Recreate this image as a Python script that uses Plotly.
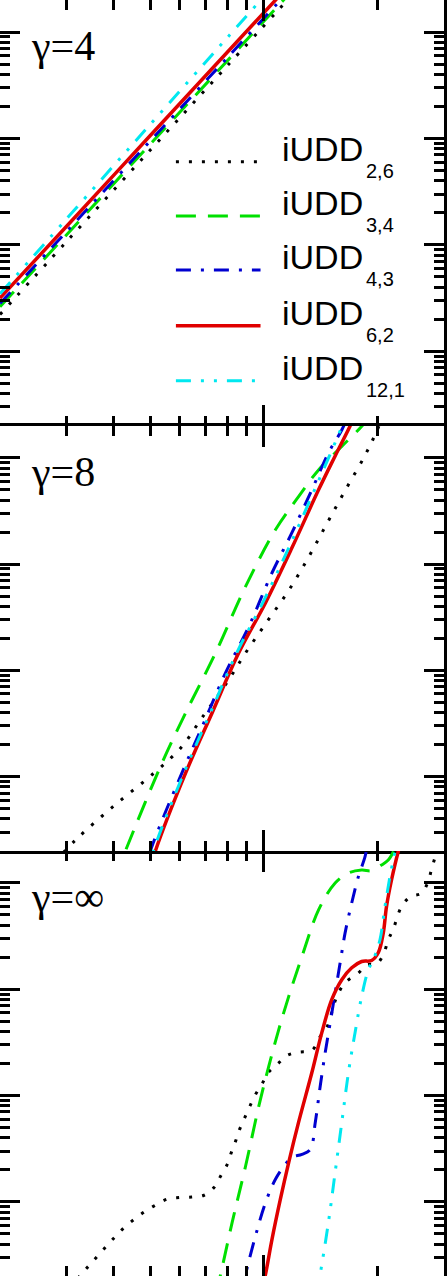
import math
import plotly.graph_objects as go
from plotly.subplots import make_subplots

W, H = 447, 1276

# ---------------- data ----------------
series_main = ["iUDD", "iUDD", "iUDD", "iUDD", "iUDD"]
series_sub = ["2,6", "3,4", "4,3", "6,2", "12,1"]
panel_labels = ["γ=4", "γ=8", "γ=∞"]

# panel 1 : gamma = 4
p1_x = [0.2, 0.3, 0.5, 0.8, 1.2]
p1_black = [2.22, 10.7, 77.4, 479, 2301]
p1_green = [2.62, 12.4, 88.1, 533, 2523]
p1_blue = [2.81, 13.3, 94.4, 571, 2704]
p1_red = [3.16, 14.9, 106, 643, 3035]
p1_cyan = [3.47, 17.5, 135, 880, 4440]

# panel 2 : gamma = 8
p2_black_x = [0.279, 0.3187, 0.4007, 0.5108, 0.6035, 0.6882, 0.7932, 0.896, 1.021, 1.166,
              1.316, 1.471, 1.645, 1.850, 1.975, 2.08]
p2_black_y = [0.157, 0.258, 0.530, 1.074, 1.872, 3.63, 7.36, 14.6, 28.7, 56.5,
              116, 239, 491, 1024, 1637, 2520]
p2_green_x = [0.4023, 0.4318, 0.5385, 0.6222, 0.7465, 0.896, 1.075, 1.238, 1.399, 1.609, 1.816, 1.954]
p2_green_y = [0.109, 0.2076, 1.362, 4.02, 14.7, 61.6, 210, 431, 768, 1271, 1958, 2690]
p2_blue_x = [0.468, 0.5028, 0.5973, 0.6882, 0.7932, 0.914, 1.053, 1.189, 1.343, 1.486, 1.612, 1.679]
p2_blue_y = [0.0875, 0.2076, 0.944, 2.99, 9.53, 25.9, 82.8, 197, 499, 1109, 1824, 2523]
p2_red_x = [0.483, 0.5184, 0.6222, 0.7311, 0.860, 1.012, 1.189, 1.399, 1.548, 1.696, 1.762]
p2_red_y = [0.0875, 0.2076, 1.097, 4.02, 14.7, 43.3, 142, 499, 1040, 1990, 2690]
p2_cyan_x = [0.478, 0.5121, 0.6157, 0.7233, 0.8495, 0.9952, 1.166, 1.365, 1.495, 1.618, 1.689]
p2_cyan_y = [0.0875, 0.2076, 1.097, 4.02, 14.7, 43.3, 142, 499, 1040, 1990, 2690]

# panel 3 : gamma = infinity
p3_black_x = [0.306, 0.3286, 0.3455, 0.3633, 0.3837, 0.4045, 0.4274, 0.4543, 0.4828, 0.5162,
              0.5541, 0.5973, 0.6452, 0.6953, 0.7387, 0.7695, 0.8011, 0.8209, 0.8431, 0.8637,
              0.892, 0.9519, 0.9952, 1.028, 1.086, 1.153, 1.238, 1.343, 1.413, 1.471,
              1.516, 1.563, 1.645, 1.784, 1.876, 1.993, 2.077, 2.141, 2.207, 2.321,
              2.452, 2.621, 2.730, 2.785, 2.843, 2.901]
p3_black_y = [0.151, 0.2085, 0.2533, 0.3098, 0.3846, 0.4712, 0.5726, 0.685, 0.802, 0.927,
              1.056, 1.095, 1.109, 1.151, 1.359, 1.747, 2.249, 2.897, 3.724, 4.795,
              6.216, 10.22, 13.24, 16.34, 19.55, 23.74, 25.5, 26.63, 35.8, 43.5,
              60.2, 85.0, 115.1, 141.9, 169.8, 173.5, 210.9, 291.6, 367.5, 599,
              743.6, 800.5, 1028, 1324, 1706, 2275]
p3_green_x = [0.7478, 0.7695, 0.8257, 0.896, 0.9712, 1.032, 1.097, 1.166, 1.264, 1.399,
              1.548, 1.679, 1.820, 1.934, 2.055, 2.141, 2.207, 2.247]
p3_green_y = [0.1353, 0.2085, 0.6419, 2.169, 7.934, 18.84, 41.67, 85.6, 203.2, 557.8,
              1000, 1241, 1324, 1305, 1476, 1644, 1955, 2275]
p3_blue_x = [0.8706, 0.896, 0.9519, 1.012, 1.075, 1.142, 1.189, 1.264, 1.330, 1.371,
             1.413, 1.457, 1.502, 1.548, 1.596, 1.645, 1.713, 1.784, 1.858, 1.884]
p3_blue_y = [0.1353, 0.2085, 0.4775, 0.9828, 1.627, 2.249, 2.617, 2.793, 3.112, 5.578,
             12.23, 25.34, 48.46, 92.72, 177.3, 339.3, 648.9, 1146, 1766, 2275]
p3_red_x = [0.9831, 1.012, 1.053, 1.108, 1.166, 1.238, 1.343, 1.427, 1.516, 1.612,
            1.713, 1.820, 1.934, 2.014, 2.077, 2.118, 2.184, 2.275, 2.303]
p3_red_y = [0.1353, 0.2085, 0.4446, 1.056, 2.349, 5.578, 16.44, 39.04, 79.67, 122.8,
            159.2, 182.4, 186.4, 220.2, 339.3, 599, 1067, 1968, 2275]
p3_cyan_x = [1.382, 1.413, 1.486, 1.548, 1.612, 1.679, 1.748, 1.820, 1.896, 1.954,
             2.035, 2.098, 2.163, 2.230, 2.247]
p3_cyan_y = [0.1353, 0.2085, 0.6419, 1.892, 5.578, 16.44, 39.04, 85.6, 152.4, 189.2,
             291.6, 599, 1146, 1968, 2275]

x_range = [0.2, 3.0]
y_range = [0.2, 2000.0]

# ---------------- styles ----------------
colors = ["#000000", "#00e000", "#0000d0", "#e00000", "#00e8f0"]
dashes = ["3px,10px", "20px,12px", "15px,10px,3px,10px", "solid", "15px,10px,3px,10px,3px,10px"]
widths = [3, 3, 3, 3.5, 3]

panels = [
    [(p1_x, p1_black), (p1_x, p1_green), (p1_x, p1_blue), (p1_x, p1_red), (p1_x, p1_cyan)],
    [(p2_black_x, p2_black_y), (p2_green_x, p2_green_y), (p2_blue_x, p2_blue_y),
     (p2_red_x, p2_red_y), (p2_cyan_x, p2_cyan_y)],
    [(p3_black_x, p3_black_y), (p3_green_x, p3_green_y), (p3_blue_x, p3_blue_y),
     (p3_red_x, p3_red_y), (p3_cyan_x, p3_cyan_y)],
]

fig = make_subplots(rows=3, cols=1, vertical_spacing=0)

for r, pdata in enumerate(panels, start=1):
    for i, (xs, ys) in enumerate(pdata):
        fig.add_trace(go.Scatter(
            x=xs, y=ys, mode="lines", name=series_main[i] + " " + series_sub[i], showlegend=False,
            line=dict(color=colors[i], width=widths[i], dash=dashes[i]),
            line_shape="spline"), row=r, col=1)

# panel geometry (pixel positions of the panel boundaries)
bounds_px = [0, 425.7, 851, H]
x_dom = [0, 445.5 / W]

for r in range(1, 4):
    top = 1 - bounds_px[r - 1] / H
    bot = 1 - bounds_px[r] / H
    xa = "xaxis" if r == 1 else f"xaxis{r}"
    ya = "yaxis" if r == 1 else f"yaxis{r}"
    fig.layout[xa].update(
        type="log", range=[math.log10(x_range[0]), math.log10(x_range[1])], domain=x_dom,
        showticklabels=False, showgrid=False, zeroline=False,
        showline=(r == 2), linecolor="black", linewidth=3, mirror="allticks",
        ticks="inside", ticklen=21, tickwidth=3, tickcolor="black", dtick=1,
        minor=dict(ticks="inside", ticklen=10, tickwidth=3, tickcolor="black", dtick="D1", showgrid=False))
    fig.layout[ya].update(
        type="log", range=[math.log10(y_range[0]), math.log10(y_range[1])], domain=[bot, top],
        showticklabels=False, showgrid=False, zeroline=False,
        showline=True, linecolor="black", linewidth=3, mirror="allticks",
        ticks="inside", ticklen=20, tickwidth=3, tickcolor="black", dtick=1,
        minor=dict(ticks="inside", ticklen=10, tickwidth=3, tickcolor="black", dtick="D1", showgrid=False))
    # gamma label
    fig.add_annotation(
        x=29 / W, y=1 - (bounds_px[r - 1] + 46) / H, xref="paper", yref="paper",
        xanchor="left", yanchor="middle", showarrow=False,
        text=panel_labels[r - 1],
        font=dict(family="Liberation Serif, Times New Roman, serif", size=42, color="black"))

# custom legend (long key lines like the original)
row_y = [161.7, 216, 270, 325.7, 380.7]
for i in range(5):
    yp = 1 - row_y[i] / H
    fig.add_shape(type="line", xref="paper", yref="paper",
                  x0=176.7 / W, x1=261.7 / W, y0=yp, y1=yp,
                  line=dict(color=colors[i], width=widths[i],
                            dash=None if dashes[i] == "solid" else dashes[i]))
    fig.add_annotation(
        x=281 / W, y=1 - (row_y[i] - 13) / H, xref="paper", yref="paper",
        xanchor="left", yanchor="middle", showarrow=False,
        text=series_main[i],
        font=dict(family="Liberation Sans, Arial, sans-serif", size=34, color="black"))
    fig.add_annotation(
        x=366 / W, y=1 - (row_y[i] + 9) / H, xref="paper", yref="paper",
        xanchor="left", yanchor="middle", showarrow=False,
        text=series_sub[i],
        font=dict(family="Liberation Sans, Arial, sans-serif", size=20, color="black"))

fig.update_layout(
    width=W, height=H, margin=dict(l=0, r=0, t=0, b=0),
    paper_bgcolor="white", plot_bgcolor="white", showlegend=False)

fig.write_html("out.html", config={"displayModeBar": False},
               post_script="document.body.style.margin='0';document.body.style.overflow='hidden';")
